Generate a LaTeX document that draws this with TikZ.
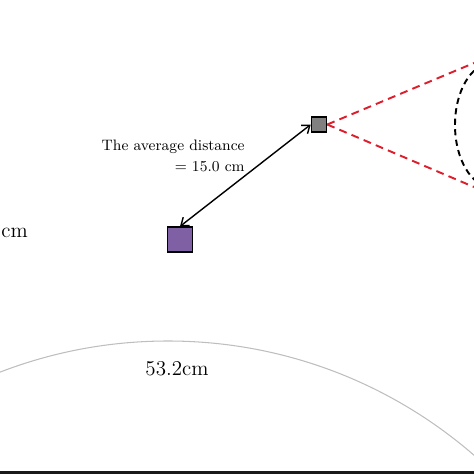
\documentclass[tikz,border=0pt]{standalone}
\usetikzlibrary{arrows.meta}
\definecolor{redline}{RGB}{220,30,45}
\definecolor{purplefill}{RGB}{128,96,164}
\definecolor{grayfill}{RGB}{128,128,128}
\definecolor{arcgray}{RGB}{190,190,190}
\tikzset{
  sq/.style={draw=black, line width=0.9pt, minimum size=#1, inner sep=0pt},
  redray/.style={draw=redline, line width=1.1pt, dash pattern=on 4.5pt off 3pt},
  fovarc/.style={draw=black, line width=1.1pt, dash pattern=on 3.5pt off 2.5pt},
  lbl/.style={inner sep=0pt, font=\fontsize{8.6}{11.5}\selectfont},
  biglbl/.style={inner sep=0pt, font=\fontsize{12}{14}\selectfont},
}
\begin{document}
\begin{tikzpicture}[x=0.02cm,y=-0.02cm]
\useasboundingbox (0,0) rectangle (474,474);
\begin{scope}
\clip (0,0) rectangle (474,474);
% large gray arc
\draw[arcgray, line width=0.6pt] (168,808) circle (467);
% dashed ellipse arc
\draw[fovarc] (492,125) ellipse (37 and 62);
% bottom bar
\fill[black!90] (0,471) rectangle (474,474);
\end{scope}
\node[biglbl, anchor=base west] (leftlbl) at (1,237) {cm};
\node[sq=8.5pt, fill=grayfill] (gray) at (319,124.5) {};
\node[sq=14pt, fill=purplefill] (purple) at (180,239.5) {};
\coordinate (rayA) at (474,63);
\coordinate (rayB) at (474,187);
\draw[redray] (gray.east) -- (rayA);
\draw[redray] (gray.east) -- (rayB);
\draw[line width=0.8pt, {Straight Barb[length=4pt,width=6pt]}-{Straight Barb[length=4pt,width=6pt]}] (purple.north) -- (gray.west);
\node[lbl, anchor=north east, align=right] (dist) at (245,140) {The average distance\\= 15.0 cm};
\node[biglbl] (arclbl) at (177,369) {53.2cm};
\end{tikzpicture}
\end{document}
